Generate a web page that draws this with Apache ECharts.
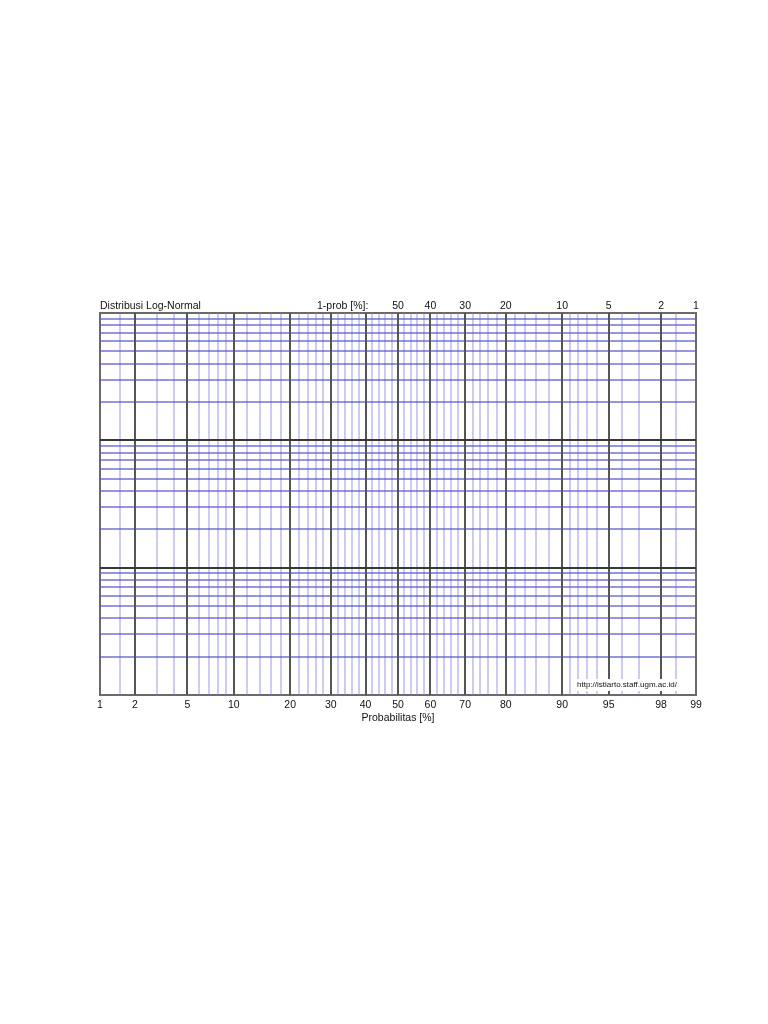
<!DOCTYPE html>
<html><head><meta charset="utf-8">
<script src="https://cdn.jsdelivr.net/npm/echarts@6/dist/echarts.min.js"></script>
<style>html,body{margin:0;padding:0;background:#fff}#c{width:768px;height:1024px}</style>
</head><body><div id="c"></div>
<script>
// ---- data ----
const probMin = 1, probMax = 99;
const probMajor = [2,5,10,20,30,40,50,60,70,80,90,95,98];
const probMinor = [1.5,3,4,6,7,8,9,12,14,16,18,22,24,26,28,32,34,36,38,42,44,46,48,
  52,54,56,58,62,64,66,68,72,74,76,78,82,84,86,88,91,92,93,94,96,97,98.5];
const bottomLabels = [1,2,5,10,20,30,40,50,60,70,80,90,95,98,99];
const topLabels = [50,40,30,20,10,5,2,1];
const yMin = 1, yMax = 1000;
const yMajor = [10,100];
const yMinor = [2,3,4,5,6,7,8,9,20,30,40,50,60,70,80,90,200,300,400,500,600,700,800,900];
const titleText = 'Distribusi Log-Normal';
const topAxisTitle = '1-prob [%]:';
const xAxisTitle = 'Probabilitas [%]';
const urlText = 'http://istiarto.staff.ugm.ac.id/';

// inverse standard normal CDF (Acklam)
function invNorm(p){
  const a=[-3.969683028665376e+01,2.209460984245205e+02,-2.759285104469687e+02,1.383577518672690e+02,-3.066479806614716e+01,2.506628277459239e+00];
  const b=[-5.447609879822406e+01,1.615858368580409e+02,-1.556989798598866e+02,6.680131188771972e+01,-1.328068155288572e+01];
  const c=[-7.784894002430293e-03,-3.223964580411365e-01,-2.400758277161838e+00,-2.549732539343734e+00,4.374664141464968e+00,2.938163982698783e+00];
  const d=[7.784695709041462e-03,3.224671290700398e-01,2.445134137142996e+00,3.754408661907416e+00];
  const pl=0.02425;
  let q,r;
  if(p<pl){q=Math.sqrt(-2*Math.log(p));return (((((c[0]*q+c[1])*q+c[2])*q+c[3])*q+c[4])*q+c[5])/((((d[0]*q+d[1])*q+d[2])*q+d[3])*q+1);}
  if(p<=1-pl){q=p-0.5;r=q*q;return (((((a[0]*r+a[1])*r+a[2])*r+a[3])*r+a[4])*r+a[5])*q/(((((b[0]*r+b[1])*r+b[2])*r+b[3])*r+b[4])*r+1);}
  q=Math.sqrt(-2*Math.log(1-p));return -(((((c[0]*q+c[1])*q+c[2])*q+c[3])*q+c[4])*q+c[5])/((((d[0]*q+d[1])*q+d[2])*q+d[3])*q+1);
}
const zp = p => invNorm(p/100);
const zMin = zp(probMin), zMax = zp(probMax);
const bottomZ = bottomLabels.map(zp);
const topZ = topLabels.map(v => zp(100 - v));
function lookup(zs, labels, v){
  let bi=0,bd=Infinity;
  zs.forEach((z,i)=>{const dd=Math.abs(z-v); if(dd<bd){bd=dd;bi=i;}});
  return String(labels[bi]);
}
const font = 'Liberation Sans, Arial, sans-serif';
const snap = v => Math.round(v);

function lineSeries(name, data, vertical, color, width, z){
  return {
    name, type:'custom', z, silent:true, animation:false, clip:false,
    encode:{x:0, y:1},
    data,
    renderItem:function(params, api){
      let p1, p2;
      if(vertical){
        p1 = api.coord([api.value(0), yMin]);
        p2 = api.coord([api.value(0), yMax]);
        p1[0] = p2[0] = snap(p1[0]);
      } else {
        p1 = api.coord([zMin, api.value(1)]);
        p2 = api.coord([zMax, api.value(1)]);
        p1[1] = p2[1] = snap(p1[1]);
      }
      return {type:'line', shape:{x1:p1[0], y1:p1[1], x2:p2[0], y2:p2[1]},
        style:{stroke:color, lineWidth:width}};
    }
  };
}

const chart = echarts.init(document.getElementById('c'), null, {renderer:'canvas'});
chart.setOption({
  animation:false,
  backgroundColor:'#fff',
  grid:{left:100, right:72, top:313, bottom:329, show:true, borderColor:'#6a6a6a', borderWidth:2, containLabel:false},
  xAxis:[
    {type:'value', position:'bottom', min:zMin, max:zMax,
     name:xAxisTitle, nameLocation:'middle', nameGap:18,
     nameTextStyle:{fontFamily:font, fontSize:10.5, color:'#111'},
     axisLine:{show:false}, axisTick:{show:false}, splitLine:{show:false},
     axisLabel:{customValues:bottomZ, margin:5, fontFamily:font, fontSize:10.5, color:'#111',
       formatter:v=>lookup(bottomZ,bottomLabels,v)}},
    {type:'value', position:'top', min:zMin, max:zMax,
     axisLine:{show:false}, axisTick:{show:false}, splitLine:{show:false},
     axisLabel:{customValues:topZ, margin:1, fontFamily:font, fontSize:10.5, color:'#111',
       formatter:v=>lookup(topZ,topLabels,v)}}
  ],
  yAxis:{type:'log', logBase:10, min:yMin, max:yMax,
    axisLine:{show:false}, axisTick:{show:false}, axisLabel:{show:false}, splitLine:{show:false}},
  series:[
    lineSeries('minorV', probMinor.map(p=>[zp(p), yMin]), true, 'rgba(130,130,228,0.42)', 2, 1),
    lineSeries('minorH', yMinor.map(v=>[zMin, v]), false, 'rgba(85,85,205,0.62)', 2, 2),
    lineSeries('majorV', probMajor.map(p=>[zp(p), yMin]), true, '#555', 2, 3),
    lineSeries('majorH', yMajor.map(v=>[zMin, v]), false, '#383838', 2, 4)
  ],
  graphic:[
    {type:'text', left:100, top:301, z:100, style:{text:titleText, font:'10.5px '+font, fill:'#111'}},
    {type:'text', left:317, top:301, z:100, style:{text:topAxisTitle, font:'10.5px '+font, fill:'#111'}},
    {type:'text', left:575, top:679, z:100, style:{text:urlText, font:'8px '+font, fill:'#111',
      backgroundColor:'#fff', padding:[2,2,2,2]}}
  ]
});
</script></body></html>
